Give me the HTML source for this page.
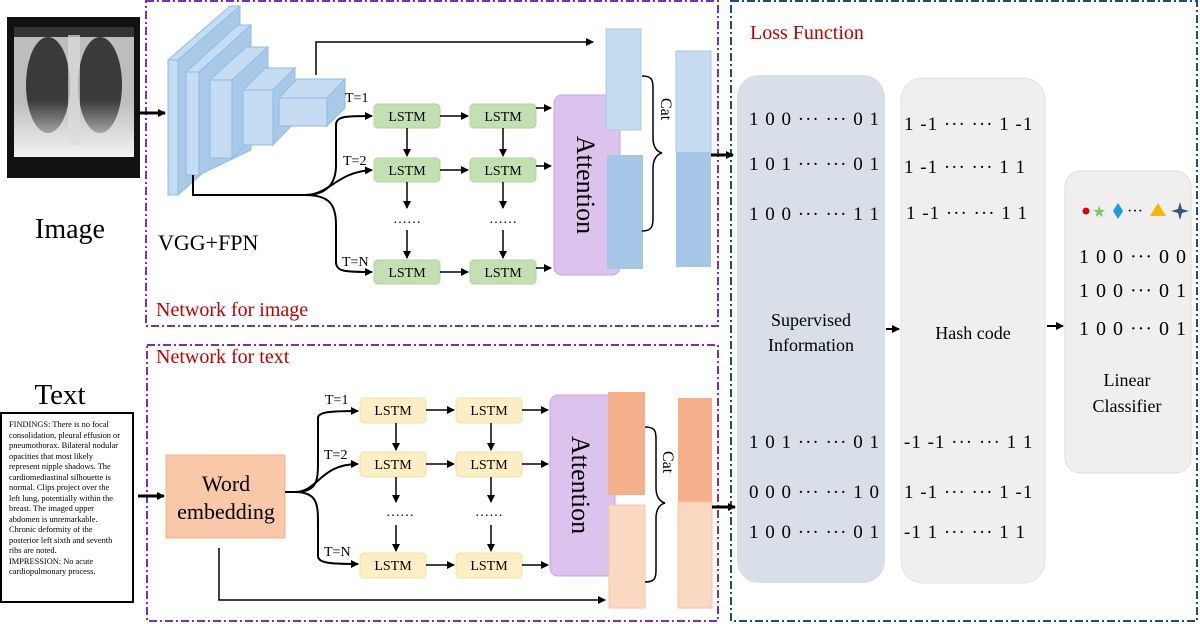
<!DOCTYPE html>
<html><head><meta charset="utf-8"><style>
body{margin:0;background:#fff}
svg{display:block}
text{font-family:"Liberation Serif",serif;fill:#000}
</style></head><body>
<svg width="1200" height="624" viewBox="0 0 1200 624" xmlns="http://www.w3.org/2000/svg">
<defs>
<marker id="a" markerWidth="8" markerHeight="8" refX="7" refY="4" orient="auto" markerUnits="userSpaceOnUse"><path d="M0,0 L8,4 L0,8 Z" fill="#000"/></marker>
<linearGradient id="xb" x1="0" y1="0" x2="0" y2="1"><stop offset="0" stop-color="#eee" stop-opacity="0"/><stop offset="1" stop-color="#f4f4f4"/></linearGradient>
</defs>

<rect x="146" y="1" width="572" height="325" fill="none" stroke="#7a2fb8" stroke-width="2" stroke-dasharray="8,3,2,3"/>
<rect x="147" y="345" width="571" height="276" fill="none" stroke="#7a2fb8" stroke-width="2" stroke-dasharray="8,3,2,3"/>
<rect x="731" y="1" width="466" height="620" fill="none" stroke="#1f4e79" stroke-width="2" stroke-dasharray="8,3,2,3"/>

<!-- x-ray -->
<rect x="7" y="17" width="133" height="161" fill="#111"/>
<rect x="14" y="27" width="120" height="130" fill="#bdbdbd"/>
<rect x="14" y="27" width="120" height="10" fill="#333"/>
<ellipse cx="48" cy="85" rx="22" ry="48" fill="#3a3a3a"/>
<ellipse cx="100" cy="85" rx="22" ry="48" fill="#3a3a3a"/>
<rect x="14" y="100" width="120" height="57" fill="url(#xb)"/>
<rect x="68" y="35" width="12" height="110" fill="#ddd" opacity="0.7"/>
<text x="70" y="238" font-size="28" text-anchor="middle">Image</text>
<line x1="140" y1="113" x2="165" y2="113" stroke="#000" stroke-width="3" marker-end="url(#a)"/>

<!-- VGG blocks -->
<g fill="#c5dcf2" stroke="#8fbde6" stroke-width="1">
<polygon points="168,60 230,6 240,6 178,60"/>
<rect x="168" y="60" width="10" height="135"/><polygon points="178,60 240,6 240,140 178,195" fill="#a9c9e8"/>
<rect x="186" y="72" width="13" height="103"/><polygon points="186,72 238,25 251,25 199,72"/>
<polygon points="199,72 251,25 251,150 199,175" fill="#a9c9e8"/>
<rect x="210" y="80" width="22" height="78"/><polygon points="210,80 232,80 268,47 246,47"/><polygon points="232,80 268,47 268,125 232,158" fill="#a9c9e8"/>
<rect x="243" y="90" width="30" height="55"/><polygon points="243,90 273,90 295,68 265,68"/><polygon points="273,90 295,68 295,122 273,145" fill="#a9c9e8"/>
<rect x="279" y="98" width="48" height="28"/><polygon points="279,98 327,98 345,79 297,79"/><polygon points="327,98 345,79 345,108 327,126" fill="#a9c9e8"/>
</g>
<text x="158" y="250" font-size="22">VGG+FPN</text>
<text x="156" y="316" font-size="20" style="fill:#c00000">Network  for image</text>

<polyline points="316,75 316,42 593,42" fill="none" stroke="#000" stroke-width="1.5" marker-end="url(#a)"/>
<path d="M193,175 V195 H305 C330,195 336,180 336,165 V125 C336,116 346,116 372,116" fill="none" stroke="#000" stroke-width="2" marker-end="url(#a)"/>
<path d="M305,195 C330,195 336,172 372,170" fill="none" stroke="#000" stroke-width="2" marker-end="url(#a)"/>
<path d="M305,195 C330,195 336,205 336,225 V262 C336,272 346,272 372,272" fill="none" stroke="#000" stroke-width="2" marker-end="url(#a)"/>
<g font-size="14"><text x="345" y="102">T=1</text><text x="343" y="165">T=2</text><text x="342" y="266">T=N</text></g>

<g fill="#c3e0b2" stroke="#b0d39c">
<rect x="374" y="104" width="66" height="24" rx="4"/><rect x="470" y="104" width="66" height="24" rx="4"/>
<rect x="374" y="158" width="66" height="24" rx="4"/><rect x="470" y="158" width="66" height="24" rx="4"/>
<rect x="374" y="260" width="66" height="24" rx="4"/><rect x="470" y="260" width="66" height="24" rx="4"/>
</g>
<g font-size="14" text-anchor="middle">
<text x="407" y="121">LSTM</text><text x="503" y="121">LSTM</text>
<text x="407" y="175">LSTM</text><text x="503" y="175">LSTM</text>
<text x="407" y="277">LSTM</text><text x="503" y="277">LSTM</text>
<text x="407" y="223">……</text><text x="503" y="223">……</text>
</g>
<g stroke="#000" stroke-width="1.5" marker-end="url(#a)">
<line x1="440" y1="116" x2="468" y2="116"/><line x1="440" y1="170" x2="468" y2="170"/><line x1="440" y1="272" x2="468" y2="272"/>
<line x1="536" y1="108" x2="551" y2="108"/><line x1="536" y1="166" x2="551" y2="166"/><line x1="536" y1="268" x2="551" y2="268"/>
<line x1="407" y1="128" x2="407" y2="156"/><line x1="503" y1="128" x2="503" y2="156"/>
<line x1="407" y1="182" x2="407" y2="208"/><line x1="503" y1="182" x2="503" y2="208"/>
<line x1="407" y1="230" x2="407" y2="258"/><line x1="503" y1="230" x2="503" y2="258"/>
<line x1="593" y1="188" x2="606" y2="188"/>
</g>
<rect x="554" y="95" width="66" height="180" rx="8" fill="#dcc3ee" stroke="#c6a4e2"/>
<text x="0" y="0" font-size="26" transform="translate(577,185) rotate(90)" text-anchor="middle">Attention</text>
<rect x="606" y="29" width="35" height="101" fill="#c5dcf0" stroke="#a7c9ea"/>
<rect x="607" y="155" width="36" height="114" fill="#a5c6e6"/>
<path d="M642,76 C652,76 653,80 653,88 V138 C653,148 658,152 662,153 C658,154 653,158 653,168 V218 C653,226 652,231 642,231" fill="none" stroke="#000" stroke-width="1.5"/>
<text x="0" y="0" font-size="16" transform="translate(661,98) rotate(90)">Cat</text>
<rect x="676" y="51" width="35" height="102" fill="#c5dcf0" stroke="#a7c9ea"/>
<rect x="676" y="152" width="35" height="115" fill="#a5c6e6"/>
<line x1="711" y1="155" x2="733" y2="155" stroke="#000" stroke-width="3" marker-end="url(#a)"/>

<!-- text side -->
<text x="60" y="404" font-size="29" text-anchor="middle">Text</text>
<rect x="1" y="413" width="132" height="189" fill="#fff" stroke="#000" stroke-width="2"/>
<g font-size="8.4">
<text x="9" y="427">FINDINGS:    There is no focal</text>
<text x="9" y="438">consolidation, pleural effusion or</text>
<text x="9" y="448">pneumothorax.  Bilateral nodular</text>
<text x="9" y="459">opacities that most likely</text>
<text x="9" y="469">represent nipple shadows. The</text>
<text x="9" y="480">cardiomediastinal silhouette is</text>
<text x="9" y="490">normal.  Clips project over the</text>
<text x="9" y="501">left lung, potentially within the</text>
<text x="9" y="511">breast. The imaged upper</text>
<text x="9" y="522">abdomen is unremarkable.</text>
<text x="9" y="532">Chronic deformity of the</text>
<text x="9" y="543">posterior left sixth and seventh</text>
<text x="9" y="553">ribs are noted.</text>
<text x="9" y="564">IMPRESSION:    No acute</text>
<text x="9" y="574">cardiopulmonary process.</text>
</g>
<line x1="138" y1="496" x2="164" y2="496" stroke="#000" stroke-width="3" marker-end="url(#a)"/>
<rect x="166" y="455" width="119" height="83" fill="#f8c8a8" stroke="#f2b48a"/>
<text x="226" y="491" font-size="22" text-anchor="middle">Word</text>
<text x="226" y="519" font-size="22" text-anchor="middle">embedding</text>
<text x="156" y="363" font-size="20" style="fill:#c00000">Network  for text</text>

<path d="M219,548 V600 H605" fill="none" stroke="#000" stroke-width="1.5" marker-end="url(#a)"/>
<path d="M285,492 H295 C318,492 318,480 318,460 V418 C318,412 330,411 358,411" fill="none" stroke="#000" stroke-width="2" marker-end="url(#a)"/>
<path d="M295,492 C318,492 320,464 358,464" fill="none" stroke="#000" stroke-width="2" marker-end="url(#a)"/>
<path d="M295,492 C318,492 318,505 318,525 V556 C318,563 330,564 358,564" fill="none" stroke="#000" stroke-width="2" marker-end="url(#a)"/>
<g font-size="14"><text x="325" y="404">T=1</text><text x="324" y="459">T=2</text><text x="324" y="556">T=N</text></g>

<g fill="#fdeec4" stroke="#f5dfa6">
<rect x="360" y="398" width="66" height="25" rx="4"/><rect x="456" y="398" width="66" height="25" rx="4"/>
<rect x="360" y="452" width="66" height="25" rx="4"/><rect x="456" y="452" width="66" height="25" rx="4"/>
<rect x="360" y="553" width="66" height="25" rx="4"/><rect x="456" y="553" width="66" height="25" rx="4"/>
</g>
<g font-size="14" text-anchor="middle">
<text x="393" y="415">LSTM</text><text x="489" y="415">LSTM</text>
<text x="393" y="469">LSTM</text><text x="489" y="469">LSTM</text>
<text x="393" y="570">LSTM</text><text x="489" y="570">LSTM</text>
<text x="400" y="516">……</text><text x="489" y="516">……</text>
</g>
<g stroke="#000" stroke-width="1.5" marker-end="url(#a)">
<line x1="426" y1="410" x2="454" y2="410"/><line x1="426" y1="464" x2="454" y2="464"/><line x1="426" y1="565" x2="454" y2="565"/>
<line x1="522" y1="410" x2="548" y2="410"/><line x1="522" y1="464" x2="548" y2="464"/><line x1="522" y1="565" x2="548" y2="565"/>
<line x1="396" y1="423" x2="396" y2="450"/><line x1="491" y1="423" x2="491" y2="450"/>
<line x1="396" y1="477" x2="396" y2="502"/><line x1="491" y1="477" x2="491" y2="502"/>
<line x1="396" y1="525" x2="396" y2="551"/><line x1="491" y1="525" x2="491" y2="551"/>
<line x1="593" y1="464" x2="606" y2="464"/>
</g>
<rect x="550" y="395" width="65" height="181" rx="8" fill="#dcc3ee" stroke="#c6a4e2"/>
<text x="0" y="0" font-size="26" transform="translate(572,485) rotate(90)" text-anchor="middle">Attention</text>
<rect x="608" y="392" width="37" height="103" fill="#f4b08a"/>
<rect x="609" y="505" width="36" height="103" fill="#fbd8c2" stroke="#f6c4a6"/>
<path d="M645,427 C655,427 656,431 656,439 V488 C656,498 661,502 665,503 C661,504 656,508 656,518 V570 C656,578 655,582 645,582" fill="none" stroke="#000" stroke-width="1.5"/>
<text x="0" y="0" font-size="16" transform="translate(663,451) rotate(90)">Cat</text>
<rect x="678" y="398" width="34" height="104" fill="#f4b08a"/>
<rect x="678" y="502" width="34" height="106" fill="#fbd8c2" stroke="#f6c4a6"/>
<line x1="712" y1="507" x2="735" y2="507" stroke="#000" stroke-width="3" marker-end="url(#a)"/>

<!-- loss function -->
<text x="750" y="39" font-size="20" style="fill:#c00000">Loss  Function</text>
<rect x="737" y="75" width="148" height="508" rx="22" fill="#d9dfe8"/>
<rect x="901" y="78" width="144" height="505" rx="22" fill="#efefef" stroke="#e2e2e2"/>
<rect x="1065" y="171" width="126" height="302" rx="16" fill="#efefef" stroke="#dedede"/>
<g font-size="19" letter-spacing="1">
<text x="749" y="125">1 0 0 ··· ··· 0 1</text>
<text x="749" y="170">1 0 1 ··· ··· 0 1</text>
<text x="749" y="220">1 0 0 ··· ··· 1 1</text>
<text x="749" y="448">1 0 1 ··· ··· 0 1</text>
<text x="749" y="498">0 0 0 ··· ··· 1 0</text>
<text x="749" y="538">1 0 0 ··· ··· 0 1</text>
<text x="904" y="130">1 -1 ··· ··· 1 -1</text>
<text x="904" y="173">1 -1 ··· ···  1  1</text>
<text x="906" y="219">1 -1 ··· ···  1  1</text>
<text x="904" y="448">-1 -1 ··· ···  1  1</text>
<text x="904" y="498">1  -1 ··· ··· 1 -1</text>
<text x="904" y="538">-1  1 ··· ···  1  1</text>
</g>
<g font-size="20" letter-spacing="1">
<text x="1079" y="263">1 0 0 ··· 0 0</text>
<text x="1079" y="297">1 0 0 ··· 0 1</text>
<text x="1079" y="335">1 0 0 ··· 0 1</text>
</g>
<g font-size="18" text-anchor="middle">
<text x="811" y="326">Supervised</text><text x="811" y="351">Information</text>
<text x="973" y="339">Hash code</text>
<text x="1127" y="386">Linear</text><text x="1127" y="412">Classifier</text>
</g>
<circle cx="1086" cy="211" r="4" fill="#d00" stroke="#fff"/>
<text x="1092" y="217" font-size="16" style="fill:#7ccc5a">★</text>
<polygon points="1118,203 1123,211 1118,219 1113,211" fill="#1e9be0"/>
<text x="1127" y="216" font-size="16">···</text>
<polygon points="1158,203 1166,216 1150,216" fill="#f5b800"/>
<polygon points="1180,202 1182,209 1189,211 1182,213 1180,220 1178,213 1171,211 1178,209" fill="#3a5080"/>
<g stroke="#000" stroke-width="2" marker-end="url(#a)">
<line x1="886" y1="329" x2="899" y2="329"/><line x1="1047" y1="326" x2="1063" y2="326"/>
</g>
</svg>
</body></html>
